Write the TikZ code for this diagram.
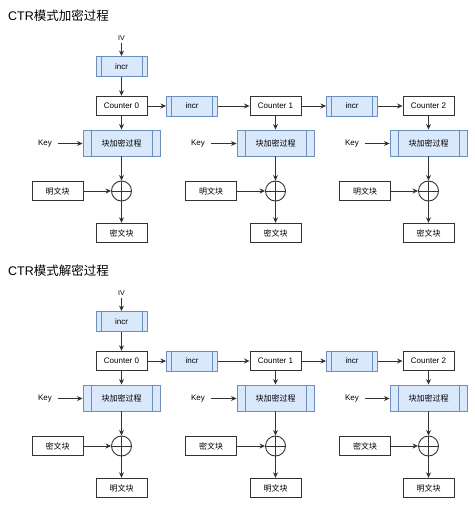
\documentclass[tikz,border=0pt]{standalone}
\usepackage{fontspec}
\setmainfont{Liberation Sans}
\newfontfamily\cjk{Noto Sans CJK SC}
\usetikzlibrary{arrows.meta}
\definecolor{bfill}{HTML}{DAE8FC}
\definecolor{bline}{HTML}{6C8EBF}
\definecolor{lcol}{HTML}{333333}
\tikzset{
  lab/.style={font=\fontsize{8}{9}\selectfont, text=black},
  plainbox/.style={lab, draw=lcol, fill=white, line width=0.9pt, minimum width=51pt, minimum height=19.5pt, inner sep=0pt},
  incrbox/.style={lab, draw=bline, fill=bfill, line width=0.9pt, minimum width=51pt, minimum height=20pt, inner sep=0pt,
    path picture={\draw[bline, line width=0.9pt] ([xshift=5pt]path picture bounding box.north west) -- ([xshift=5pt]path picture bounding box.south west)
      ([xshift=-5pt]path picture bounding box.north east) -- ([xshift=-5pt]path picture bounding box.south east);}},
  blockbox/.style={lab, draw=bline, fill=bfill, line width=0.9pt, minimum width=77pt, minimum height=26pt, inner sep=0pt,
    path picture={\draw[bline, line width=0.9pt] ([xshift=8pt]path picture bounding box.north west) -- ([xshift=8pt]path picture bounding box.south west)
      ([xshift=-8pt]path picture bounding box.north east) -- ([xshift=-8pt]path picture bounding box.south east);}},
  xorc/.style={circle, draw=lcol, fill=white, line width=0.9pt, minimum size=20pt, inner sep=0pt,
    path picture={\draw[lcol, line width=0.9pt] (path picture bounding box.north) -- (path picture bounding box.south)
      (path picture bounding box.west) -- (path picture bounding box.east);}},
  txt/.style={lab, inner sep=2pt},
  arr/.style={draw=lcol, line width=0.9pt, -{Stealth[length=5.5pt,width=5pt]}},
  ttl/.style={font=\fontsize{12.5}{14}\selectfont, anchor=west, inner sep=0pt}
}
\newcommand\ctrpart[5]{%
\begin{scope}[yshift=#2]
\node[ttl] (#1title) at (8,16) {CTR{\cjk #3}};
\node[txt, font=\fontsize{7}{8}\selectfont] (#1iv) at (121.5,38) {IV};
\node[incrbox] (#1incr) at (121.5,66.5) {incr};
\node[plainbox] (#1c0) at (121.5,106) {Counter 0};
\node[incrbox] (#1i01) at (192,106) {incr};
\node[plainbox] (#1c1) at (275.5,106) {Counter 1};
\node[incrbox] (#1i12) at (352,106) {incr};
\node[plainbox] (#1c2) at (428.5,106) {Counter 2};
\foreach \i/\x/\kx/\ix in {0/121.5/45/57.5, 1/275.5/198/211, 2/428.5/352/365}{
  \node[blockbox] (#1b\i) at (\x,143) {\cjk 块加密过程};
  \node[txt] (#1k\i) at (\kx,143.5) {Key};
  \node[xorc] (#1x\i) at (\x,191) {};
  \node[plainbox] (#1in\i) at (\ix,191) {\cjk #4};
  \node[plainbox] (#1out\i) at (\x,233) {\cjk #5};
  \draw[arr] (#1c\i) -- (#1b\i);
  \draw[arr] ([xshift=4pt]#1k\i.east) -- (#1b\i.west |- #1k\i.east);
  \draw[arr] (#1b\i) -- (#1x\i);
  \draw[arr] (#1in\i) -- (#1x\i);
  \draw[arr] (#1x\i) -- (#1out\i);
}
\draw[arr] (#1iv) -- (#1incr);
\draw[arr] (#1incr) -- (#1c0);
\draw[arr] (#1c0) -- (#1i01);
\draw[arr] (#1i01) -- (#1c1);
\draw[arr] (#1c1) -- (#1i12);
\draw[arr] (#1i12) -- (#1c2);
\end{scope}}
\begin{document}
\begin{tikzpicture}[x=1pt,y=-1pt]
\useasboundingbox (0,0) rectangle (474,505);
\ctrpart{e}{0pt}{模式加密过程}{明文块}{密文块}
\ctrpart{d}{-255pt}{模式解密过程}{密文块}{明文块}
\end{tikzpicture}
\end{document}
